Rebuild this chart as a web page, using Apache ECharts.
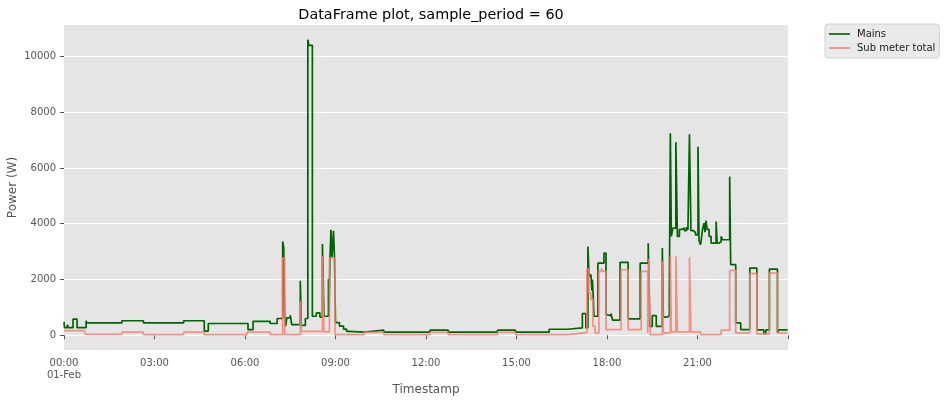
<!DOCTYPE html>
<html>
<head>
<meta charset="utf-8">
<script src="https://cdn.jsdelivr.net/npm/echarts@6/dist/echarts.min.js"></script>
<style>
html,body{margin:0;padding:0;background:#fff;}
#chart{width:945px;height:403px;}
</style>
</head>
<body>
<div id="chart"></div>
<script>
// [minute of day, watts] — value holds until the next step
const mainsSteps = [
  [0,480],[1,270],[6,270],[7,380],[8,270],[18,580],[26,270],[44,520],[45,440],
  [115,520],[158,440],[203,490],[205,440],[238,520],[279,150],[287,420],[334,480],[336,420],
  [366,200],[376,500],[410,420],[424,600],
  [435,3365],[437,3150],[439,600],[441,330],[443,620],[450,725],[453,380],[470,1955],[472,350],[480,600],
  [485,10600],[487,10400],[494,680],[502,800],[509,650],[514,3270],[517,680],[526,2020],[527,700],
  [529,2800],[531,3780],[533,2800],[536,3750],[538,2800],[540,450],[548,330],[556,220],[562,140],[566,110],
  [597,180],[636,108],[728,180],[764,108],[862,180],[898,108],[965,215],[1001,264],[1031,777],[1038,264],
  [1042,3185],[1044,2230],[1046,2100],[1048,2180],[1050,1600],[1051,2000],[1053,1200],[1054,680],
  [1062,2590],[1074,2950],[1078,750],[1081,700],[1088,780],[1091,540],[1106,2615],[1122,590],
  [1146,2590],[1162,3300],[1165,320],[1170,700],[1178,320],[1190,3128],[1192,650],[1200,700],[1204,1500],
  [1206,7245],[1208,3545],[1211,3845],[1217,6920],[1220,3545],[1224,3800],[1230,3850],[1234,3750],
  [1238,3880],[1241,3780],[1244,7208],[1247,3750],[1252,3680],[1256,3600],[1261,6765],[1263,3400],
  [1266,3245],[1268,3500],[1270,3800],[1273,4020],[1275,3700],[1277,4115],[1279,3800],[1283,3545],
  [1287,3307],[1297,4080],[1299,3307],[1303,3350],[1307,3545],[1310,3425],[1324,5690],[1326,2530],
  [1336,440],[1346,204],[1364,2410],[1372,2350],[1374,2410],[1378,190],[1392,50],[1396,190],
  [1403,2375],[1419,85],[1422,190],[1439,190]
];
const subSteps = [
  [0,165],[40,150],[43,30],[115,108],[158,25],[238,108],[279,25],[364,108],[410,25],
  [435,2770],[439,25],[470,1217],[472,140],[514,2850],[517,120],[528,2770],[539,25],
  [597,100],[636,25],[728,100],[764,25],[862,100],[898,25],[1001,90],
  [1040,2375],[1044,1517],[1048,1280],[1052,320],[1056,85],[1064,2290],[1069,2400],[1071,2290],
  [1078,200],[1108,2350],[1122,200],[1148,2290],[1161,85],[1163,2735],[1166,25],[1190,2650],
  [1192,85],[1206,2830],[1208,120],[1217,2830],[1220,120],[1244,2800],[1247,120],[1266,25],
  [1307,180],[1324,2325],[1336,85],[1364,2210],[1378,50],[1403,2230],[1419,85],[1439,85]
];
const seriesNames = ['Mains', 'Sub meter total'];
const yTicks = [0, 2000, 4000, 6000, 8000, 10000];
const xTicks = [0, 180, 360, 540, 720, 900, 1080, 1260, 1440];
const xTickLabels = ['00:00\n01-Feb', '03:00', '06:00', '09:00', '12:00', '15:00', '18:00', '21:00', ''];

const chart = echarts.init(document.getElementById('chart'), null, {renderer: 'canvas'});
const font = 'DejaVu Sans';
chart.setOption({
  animation: false,
  backgroundColor: '#ffffff',
  title: {
    text: 'DataFrame plot, sample_period = 60',
    left: 426, top: 3, textAlign: 'center',
    textStyle: {fontFamily: font, fontSize: 14.4, fontWeight: 'normal', color: '#000'}
  },
  legend: {
    data: seriesNames,
    orient: 'vertical',
    left: 825, top: 24,
    icon: 'rect',
    itemWidth: 21, itemHeight: 2, itemGap: 4,
    padding: [5, 4, 5, 4],
    backgroundColor: '#EAEAEA',
    borderColor: '#D0D0D0', borderWidth: 1, borderRadius: 3,
    textStyle: {fontFamily: font, fontSize: 10, color: '#222', padding: [0, 0, 0, 2]}
  },
  grid: {
    left: 64, right: 157, top: 25, bottom: 53,
    containLabel: false, outerBoundsMode: 'none',
    show: true, backgroundColor: '#E5E5E5', borderWidth: 0
  },
  xAxis: {
    type: 'value', min: 0, max: 1440,
    name: 'Timestamp', nameLocation: 'middle', nameGap: 34, nameMoveOverlap: false,
    nameTextStyle: {fontFamily: font, fontSize: 12, color: '#555'},
    axisLine: {show: false},
    axisTick: {show: true, length: 4, inside: false, customValues: xTicks, lineStyle: {color: '#555'}},
    axisLabel: {
      customValues: xTicks,
      fontFamily: font, fontSize: 10, color: '#555', margin: 7, lineHeight: 12,
      formatter: v => xTickLabels[xTicks.indexOf(v)] || ''
    },
    splitLine: {show: false}
  },
  yAxis: {
    type: 'value', min: -530, max: 11130,
    name: 'Power (W)', nameLocation: 'middle', nameGap: 45, nameMoveOverlap: false,
    nameTextStyle: {fontFamily: font, fontSize: 12, color: '#555'},
    axisLine: {show: false},
    axisTick: {show: true, length: 4, customValues: yTicks, lineStyle: {color: '#555'}},
    axisLabel: {customValues: yTicks, fontFamily: font, fontSize: 10, color: '#555', margin: 8,
      formatter: v => String(v)},
    splitLine: {show: true, lineStyle: {color: '#ffffff', width: 1}}
  },
  series: [
    {
      name: seriesNames[0], type: 'line', step: 'end', symbol: 'none',
      data: mainsSteps, z: 2,
      lineStyle: {color: '#006400', width: 1.7, opacity: 1},
      itemStyle: {color: '#2E7D2E'}
    },
    {
      name: seriesNames[1], type: 'line', step: 'end', symbol: 'none',
      data: subSteps, z: 3,
      lineStyle: {color: '#FA8072', width: 1.7, opacity: 0.85},
      itemStyle: {color: '#F6948A'}
    }
  ]
});
</script>
</body>
</html>
